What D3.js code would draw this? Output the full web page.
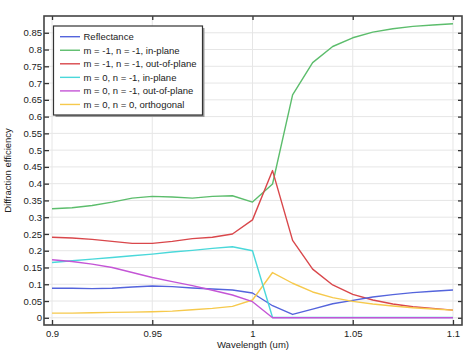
<!DOCTYPE html>
<html><head><meta charset="utf-8">
<script src="https://cdn.jsdelivr.net/npm/d3@7"></script>
<style>
html,body{margin:0;padding:0;background:#fff;}
svg{display:block;font-family:"Liberation Sans",Arial,sans-serif;}
</style></head>
<body><svg id="chart" width="474" height="356"></svg>
<script>
const wavelengths = [0.90,0.91,0.92,0.93,0.94,0.95,0.96,0.97,0.98,0.99,1.00,1.01,1.02,1.03,1.04,1.05,1.06,1.07,1.08,1.09,1.10];
const reflectance = [0.088,0.088,0.087,0.088,0.092,0.095,0.093,0.089,0.086,0.083,0.074,0.036,0.010,0.026,0.042,0.052,0.062,0.069,0.075,0.079,0.083];
const m1n1InPlane = [0.325,0.328,0.335,0.345,0.357,0.362,0.360,0.357,0.362,0.364,0.345,0.399,0.665,0.761,0.809,0.835,0.852,0.862,0.869,0.873,0.877];
const m1n1OutPlane = [0.240,0.238,0.234,0.228,0.222,0.222,0.228,0.236,0.240,0.250,0.292,0.439,0.231,0.145,0.098,0.070,0.053,0.041,0.033,0.028,0.023];
const m0n1InPlane = [0.165,0.170,0.175,0.180,0.185,0.190,0.196,0.201,0.207,0.212,0.200,0.001,0.001,0.001,0.001,0.001,0.001,0.001,0.001,0.001,0.001];
const m0n1OutPlane = [0.173,0.168,0.160,0.150,0.135,0.120,0.108,0.096,0.082,0.068,0.048,0.000,0.000,0.000,0.000,0.000,0.000,0.000,0.000,0.000,0.000];
const m0n0Orth = [0.014,0.014,0.015,0.016,0.017,0.018,0.020,0.024,0.028,0.034,0.053,0.135,0.103,0.077,0.060,0.049,0.041,0.035,0.030,0.026,0.023];
const seriesNames = ["Reflectance","m = -1, n = -1, in-plane","m = -1, n = -1, out-of-plane","m = 0, n = -1, in-plane","m = 0, n = -1, out-of-plane","m = 0, n = 0, orthogonal"];
const seriesValues = [reflectance,m1n1InPlane,m1n1OutPlane,m0n1InPlane,m0n1OutPlane,m0n0Orth];
const colors = ["#5464dc","#5cbd6c","#d9474b","#4ad8da","#c455d6","#f6c94c"];
const xTicks = [0.9,0.95,1,1.05,1.1];
const yTicks = [0,0.05,0.1,0.15,0.2,0.25,0.3,0.35,0.4,0.45,0.5,0.55,0.6,0.65,0.7,0.75,0.8,0.85];

const svg = d3.select("#chart");
const L=44, T=16, R=462, B=325;
const x = d3.scaleLinear().domain([0.896,1.1045]).range([L,R]);
const y = d3.scaleLinear().domain([-0.0215,0.9]).range([B,T]);
const fs = 9.5;

// grid
const g = svg.append("g");
g.selectAll("line.gx").data(xTicks).join("line")
  .attr("x1",d=>x(d)).attr("x2",d=>x(d)).attr("y1",T).attr("y2",B)
  .attr("stroke","#e6e6e6").attr("stroke-width",1);
g.selectAll("line.gy").data(yTicks).join("line")
  .attr("y1",d=>y(d)).attr("y2",d=>y(d)).attr("x1",L).attr("x2",R)
  .attr("stroke","#e6e6e6").attr("stroke-width",1);

// lines
const line = d3.line().x((d,i)=>x(wavelengths[i])).y(d=>y(d));
const order=[1,2,0,5,3,4];
order.forEach(k=>{
  svg.append("path").datum(seriesValues[k]).attr("d",line)
    .attr("fill","none").attr("stroke",colors[k]).attr("stroke-width",1.4)
    .attr("stroke-linejoin","round");
});

// axes with inward ticks
const axB = d3.axisBottom(x).tickValues(xTicks).tickSize(-5).tickPadding(5).tickFormat(d3.format("~g"));
const axT = d3.axisTop(x).tickValues(xTicks).tickSize(-4).tickFormat("");
const axL = d3.axisLeft(y).tickValues(yTicks).tickSize(-5).tickPadding(2).tickFormat(d3.format("~g"));
const axR = d3.axisRight(y).tickValues(yTicks).tickSize(-4).tickFormat("");
function style(sel){
  sel.select(".domain").remove();
  sel.selectAll(".tick line").attr("stroke","#333").attr("stroke-width",1.3);
  sel.selectAll(".tick text").attr("fill","#222").style("font-size",fs+"px").style("font-family","Liberation Sans, Arial, sans-serif");
}
svg.append("g").attr("transform",`translate(0,${B})`).call(axB).call(style);
svg.append("g").attr("transform",`translate(0,${T})`).call(axT).call(style);
svg.append("g").attr("transform",`translate(${L},0)`).call(axL).call(style);
svg.append("g").attr("transform",`translate(${R},0)`).call(axR).call(style);

// frame
svg.append("rect").attr("x",L).attr("y",T).attr("width",R-L).attr("height",B-T)
  .attr("fill","none").attr("stroke","#444").attr("stroke-width",1.6);

// titles
svg.append("text").attr("x",(L+R)/2).attr("y",348).attr("text-anchor","middle")
  .style("font-size",fs+"px").attr("fill","#222").text("Wavelength (um)");
svg.append("text").attr("transform",`translate(11,${(T+B)/2}) rotate(-90)`).attr("text-anchor","middle")
  .style("font-size",fs+"px").attr("fill","#222").text("Diffraction efficiency");

// legend
const lx=53.5, ly=26, lw=149, lh=89;
svg.append("rect").attr("x",lx+2).attr("y",ly+2).attr("width",lw).attr("height",lh).attr("fill","#9a9a9a");
svg.append("rect").attr("x",lx).attr("y",ly).attr("width",lw).attr("height",lh)
  .attr("fill","#fff").attr("stroke","#333").attr("stroke-width",1.2);
const lg = svg.append("g");
seriesNames.forEach((n,i)=>{
  const yy = 36.7 + i*13.55;
  lg.append("line").attr("x1",60).attr("x2",80).attr("y1",yy).attr("y2",yy)
    .attr("stroke",colors[i]).attr("stroke-width",1.4);
  lg.append("text").attr("x",83.5).attr("y",yy+3.4).style("font-size",fs+"px").attr("fill","#222").text(n);
});
</script></body></html>
